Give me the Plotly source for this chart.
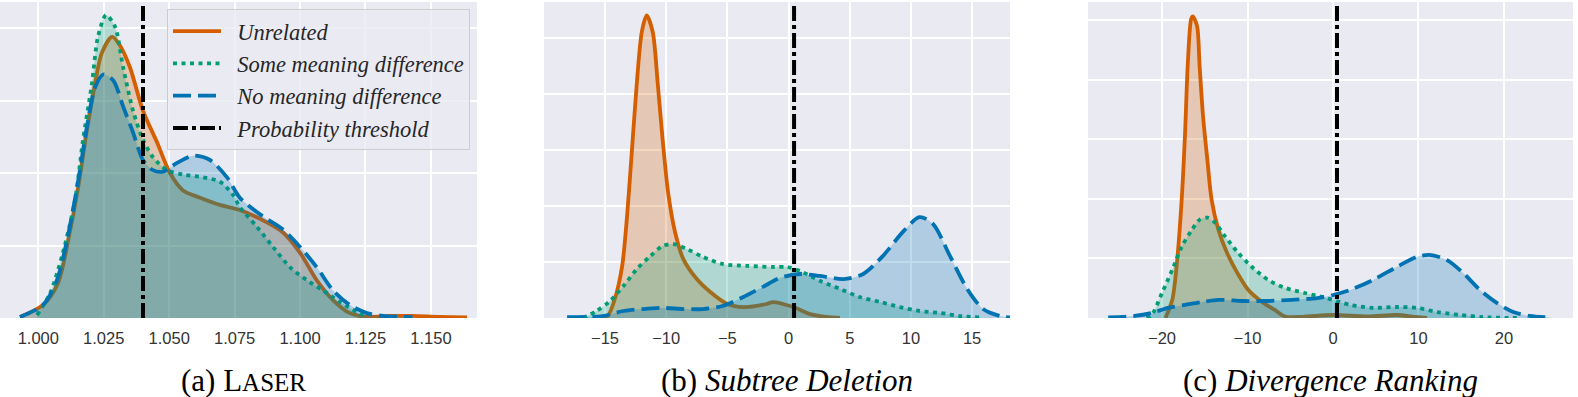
import plotly.graph_objects as go

# ---------------- data ----------------
series_names = ["Unrelated", "Some meaning difference", "No meaning difference"]
threshold_name = "Probability threshold"

# (a) LASER
laser_unrelated_x = [0.993, 1.0018, 1.0075, 1.012, 1.0152, 1.0186, 1.021, 1.0243, 1.0282, 1.0312, 1.035, 1.040,
                     1.0454, 1.0503, 1.0553, 1.0618, 1.0694, 1.077, 1.0873, 1.0935, 1.1, 1.1064, 1.1126, 1.119,
                     1.1255, 1.134, 1.143, 1.1534, 1.1638]
laser_unrelated_y = [0.07, 0.9, 2.4, 5.9, 9.0, 13.0, 15.5, 18.3, 19.4, 18.8, 17.3, 14.3, 12.1, 10.0, 8.8, 8.3, 7.8,
                     7.45, 6.6, 5.9, 4.5, 2.6, 1.24, 0.34, 0.07, 0.14, 0.14, 0.07, 0.05]
laser_some_x = [0.9995, 1.0045, 1.0094, 1.014, 1.0171, 1.0205, 1.0228, 1.0259, 1.0293, 1.0324, 1.0362, 1.040,
                1.0438, 1.0492, 1.0553, 1.063, 1.0694, 1.0744, 1.077, 1.0835, 1.0897, 1.0962, 1.1027, 1.1088,
                1.1153, 1.1218, 1.1255]
laser_some_y = [0.2, 1.7, 4.5, 8.1, 12.3, 16.2, 19.4, 20.9, 20.1, 17.3, 14.3, 12.3, 11.1, 10.2, 9.9, 9.7, 9.4, 8.5,
                7.66, 6.3, 4.9, 3.5, 2.6, 1.9, 1.1, 0.4, 0.07]
laser_none_x = [0.993, 1.0018, 1.0071, 1.011, 1.0148, 1.0186, 1.0217, 1.0248, 1.0286, 1.0324, 1.0362, 1.040,
                1.0438, 1.0477, 1.053, 1.0592, 1.0656, 1.0721, 1.077, 1.0859, 1.0935, 1.1, 1.1064, 1.1126, 1.119,
                1.1255, 1.1317, 1.1408, 1.143]
laser_none_y = [0.07, 0.9, 2.6, 5.4, 9.0, 13.2, 15.9, 16.8, 16.4, 14.6, 12.8, 10.9, 10.2, 10.1, 10.7, 11.2, 10.9,
                9.7, 8.3, 7.0, 6.1, 4.9, 3.5, 1.9, 0.9, 0.34, 0.14, 0.07, 0.05]
laser_threshold = 1.040

# (b) Subtree Deletion
subtree_unrelated_x = [-15.6, -14.8, -14.2, -13.6, -13.2, -12.8, -12.4, -12.0, -11.6, -11.1, -10.7, -10.3, -9.85,
                       -9.28, -8.6, -7.5, -6.4, -5.0, -3.7, -1.8, -1.27, 0.4, 1.75, 3.1, 4.2]
subtree_unrelated_y = [0.0, 0.0007, 0.0068, 0.0186, 0.0364, 0.060, 0.084, 0.102, 0.108, 0.102, 0.084, 0.064, 0.045,
                       0.0307, 0.021, 0.0139, 0.0093, 0.005, 0.0039, 0.005, 0.0057, 0.0039, 0.0014, 0.0004, 0.0]
subtree_some_x = [-16.8, -15.7, -14.6, -13.5, -12.4, -11.3, -10.3, -9.4, -8.3, -7.0, -5.4, -3.4, -1.2, -0.1, 0.94,
                  2.6, 4.2, 5.8, 7.5, 9.1, 10.7, 12.4, 14.0, 15.7]
subtree_some_y = [0.0, 0.0025, 0.006, 0.0114, 0.0175, 0.0221, 0.0257, 0.0264, 0.0246, 0.0218, 0.0193, 0.0186,
                  0.0182, 0.0182, 0.0168, 0.0132, 0.0104, 0.0075, 0.0057, 0.0039, 0.0025, 0.0018, 0.0007, 0.0002]
subtree_none_x = [-18.1, -15.2, -13.5, -11.9, -10.3, -8.6, -7.0, -5.4, -3.7, -2.1, -0.7, 0.94, 2.6, 4.5, 6.1, 7.7,
                  9.4, 10.7, 11.8, 13.2, 14.6, 15.9, 17.3, 18.1]
subtree_none_y = [0.0003, 0.0007, 0.0025, 0.0032, 0.0036, 0.0032, 0.0032, 0.0043, 0.0075, 0.0111, 0.0143, 0.0157,
                  0.015, 0.0139, 0.0157, 0.0221, 0.031, 0.036, 0.0336, 0.0221, 0.0104, 0.0032, 0.0007, 0.0002]
subtree_threshold = 0.45

# (c) Divergence Ranking
diverg_unrelated_x = [-19.6, -18.8, -18.3, -17.7, -17.3, -17.0, -16.6, -16.4, -15.9, -15.6, -15.2, -14.7, -14.2,
                      -13.4, -12.4, -11.2, -9.9, -8.3, -6.8, -5.6, -3.6, 0.0, 4.0, 7.5, 9.5, 11.0]
diverg_unrelated_y = [0.0, 0.0061, 0.0172, 0.0397, 0.0623, 0.0845, 0.1003, 0.1013, 0.098, 0.0845, 0.0677, 0.0532,
                      0.0397, 0.0296, 0.0219, 0.0152, 0.0094, 0.0054, 0.0027, 0.0005, 0.0004, 0.001, 0.0005, 0.001,
                      0.0004, 0.0]
diverg_some_x = [-21.8, -21.2, -20.0, -18.8, -17.7, -16.5, -15.6, -14.7, -13.8, -12.6, -11.1, -9.5, -7.6, -5.6,
                 -3.3, -0.9, 2.0, 4.7, 7.5, 9.8, 12.2, 14.9, 17.5, 21.5]
diverg_some_y = [0.0, 0.001, 0.0084, 0.0162, 0.0239, 0.0296, 0.033, 0.0337, 0.032, 0.0273, 0.0219, 0.0172, 0.0128,
                 0.0101, 0.0084, 0.0068, 0.0044, 0.0034, 0.0037, 0.0034, 0.002, 0.001, 0.0003, 0.0]
diverg_none_x = [-26.3, -23.2, -21.2, -19.3, -17.3, -15.3, -13.4, -10.6, -8.0, -4.8, -1.8, 0.0, 2.0, 4.7, 7.5, 9.8,
                 11.3, 13.3, 15.2, 17.2, 19.2, 21.1, 23.0, 25.4]
diverg_none_y = [0.0002, 0.0007, 0.0017, 0.0034, 0.0044, 0.0054, 0.0061, 0.0057, 0.0057, 0.0061, 0.0067, 0.0077,
                 0.0094, 0.0128, 0.0172, 0.0205, 0.0212, 0.0195, 0.0152, 0.0094, 0.005, 0.002, 0.0007, 0.0002]
diverg_threshold = 0.47

laser_ticks = [1.000, 1.025, 1.050, 1.075, 1.100, 1.125, 1.150]
subtree_ticks = [-15, -10, -5, 0, 5, 10, 15]
diverg_ticks = [-20, -10, 0, 10, 20]

captions = ["(a) L<span style='font-size:25px'>ASER</span>",
            "(b) <i>Subtree Deletion</i>",
            "(c) <i>Divergence Ranking</i>"]

# ---------------- styling ----------------
COLORS = ["#D55E00", "#029E73", "#0173B2"]
FILLS = ["rgba(213,94,0,0.25)", "rgba(2,158,115,0.25)", "rgba(1,115,178,0.25)"]
DASHES = ["solid", "4px,4.5px", "18px,7px"]
THR_DASH = "15px,4px,4px,4px"
LW = 3.8

fig = go.Figure()

panels = [
    ([laser_unrelated_x, laser_some_x, laser_none_x], [laser_unrelated_y, laser_some_y, laser_none_y], laser_threshold),
    ([subtree_unrelated_x, subtree_some_x, subtree_none_x], [subtree_unrelated_y, subtree_some_y, subtree_none_y], subtree_threshold),
    ([diverg_unrelated_x, diverg_some_x, diverg_none_x], [diverg_unrelated_y, diverg_some_y, diverg_none_y], diverg_threshold),
]

for p, (xs, ys, thr) in enumerate(panels):
    xa = "x" if p == 0 else f"x{p+1}"
    ya = "y" if p == 0 else f"y{p+1}"
    for i in range(3):
        fig.add_trace(go.Scatter(
            x=xs[i], y=ys[i], mode="lines", line=dict(color=COLORS[i], width=LW, dash=DASHES[i], shape="spline", smoothing=0.8),
            fill="tozeroy", fillcolor=FILLS[i], showlegend=False, xaxis=xa, yaxis=ya, hoverinfo="skip"))
    fig.add_shape(type="line", xref=xa, yref=f"{ya} domain", x0=thr, x1=thr, y0=0, y1=1,
                  line=dict(color="black", width=4, dash=THR_DASH))

# legend entries
PAD = "\u00a0\u00a0"
for i in range(3):
    fig.add_trace(go.Scatter(x=[None], y=[None], mode="lines", name=PAD + series_names[i],
                             line=dict(color=COLORS[i], width=LW, dash=DASHES[i]), showlegend=True))
fig.add_trace(go.Scatter(x=[None], y=[None], mode="lines", name=PAD + threshold_name,
                         line=dict(color="black", width=4, dash=THR_DASH), showlegend=True))

W, H = 1578, 397
ML, MR, MT, MB = 0, 5, 2, 79
PW = W - ML - MR
PH = H - MT - MB

def dom(a, b):
    return [(a - ML) / PW, (b - ML) / PW]

tickfont = dict(family="Liberation Sans, Arial, sans-serif", size=16.5, color="#333333")
common_x = dict(showgrid=True, gridcolor="white", gridwidth=1.6, zeroline=False, showline=False,
                ticks="outside", ticklen=5, tickcolor="rgba(0,0,0,0)", tickfont=tickfont)
common_y = dict(showgrid=True, gridcolor="white", gridwidth=1.6, zeroline=False, showline=False,
                showticklabels=False, ticks="")

fig.update_layout(
    width=W, height=H,
    margin=dict(l=ML, r=MR, t=MT, b=MB),
    paper_bgcolor="white", plot_bgcolor="#EAEAF2",
    xaxis=dict(domain=dom(0, 477), range=[0.98537, 1.1676], tickvals=laser_ticks,
               ticktext=[f"{t:.3f}" for t in laser_ticks], anchor="y", **common_x),
    yaxis=dict(domain=[0, 1], range=[0, 21.8], dtick=5, anchor="x", **common_y),
    xaxis2=dict(domain=dom(544, 1010), range=[-19.99, 18.1], tickvals=subtree_ticks,
                ticktext=[str(t).replace("-", "\u2212") for t in subtree_ticks], anchor="y2", **common_x),
    yaxis2=dict(domain=[0, 1], range=[0, 0.1128], dtick=0.02, anchor="x2", **common_y),
    xaxis3=dict(domain=dom(1088, 1573), range=[-28.66, 28.08], tickvals=diverg_ticks,
                ticktext=[str(t).replace("-", "\u2212") for t in diverg_ticks], anchor="y3", **common_x),
    yaxis3=dict(domain=[0, 1], range=[0, 0.1061], dtick=0.02, anchor="x3", **common_y),
    legend=dict(x=(167 - ML) / PW, y=(H - MB - 9) / PH, xanchor="left", yanchor="top",
                bgcolor="rgba(234,234,242,0.8)", bordercolor="#CCCCCC", borderwidth=1,
                font=dict(family="Liberation Serif, Times New Roman, serif", size=22.5, color="#262626", style="italic"),
                itemwidth=48, tracegroupgap=0),
    showlegend=True,
)

cap_centers = [243, 787, 1330]
for c, t in zip(cap_centers, captions):
    fig.add_annotation(text=t, xref="paper", yref="paper", x=(c - ML) / PW, y=(H - MB - 380) / PH,
                       xanchor="center", yanchor="middle", showarrow=False,
                       font=dict(family="Liberation Serif, Times New Roman, serif", size=31, color="black"))

fig.write_html("out.html", config={"displayModeBar": False},
               post_script="document.body.style.margin='0';")
